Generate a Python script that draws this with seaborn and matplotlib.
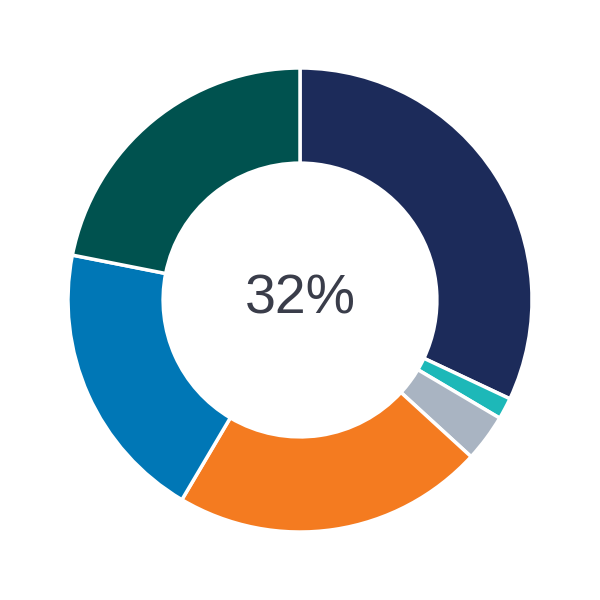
import matplotlib
matplotlib.use("Agg")
import matplotlib.pyplot as plt
import seaborn as sns

# Slice data, clockwise from 12 o'clock
labels = ["Navy", "Teal", "Gray", "Orange", "Blue", "Green"]
values = [32, 1.5, 3.3, 21.7, 19.6, 21.9]
colors = ["#1c2b5a", "#1db8b8", "#a9b4c2", "#f47b20", "#0077b6", "#00524f"]
center_label = "32%"

sns.set_theme(style="white")
plt.rcParams["font.family"] = ["Liberation Sans", "DejaVu Sans"]

fig = plt.figure(figsize=(6, 6), dpi=100)
ax = fig.add_axes([0, 0, 1, 1])
ax.pie(values, colors=colors, startangle=90, counterclock=False,
       radius=1.0,
       wedgeprops=dict(width=0.41, edgecolor="white", linewidth=2.5))
ax.text(0, 0, center_label, ha="center", va="center", fontsize=40, color="#3a3d4a")
ax.set_xlim(-1.293, 1.293)
ax.set_ylim(-1.293, 1.293)
ax.set_aspect("equal")
ax.axis("off")

fig.savefig("out.png", dpi=100, facecolor="white")
